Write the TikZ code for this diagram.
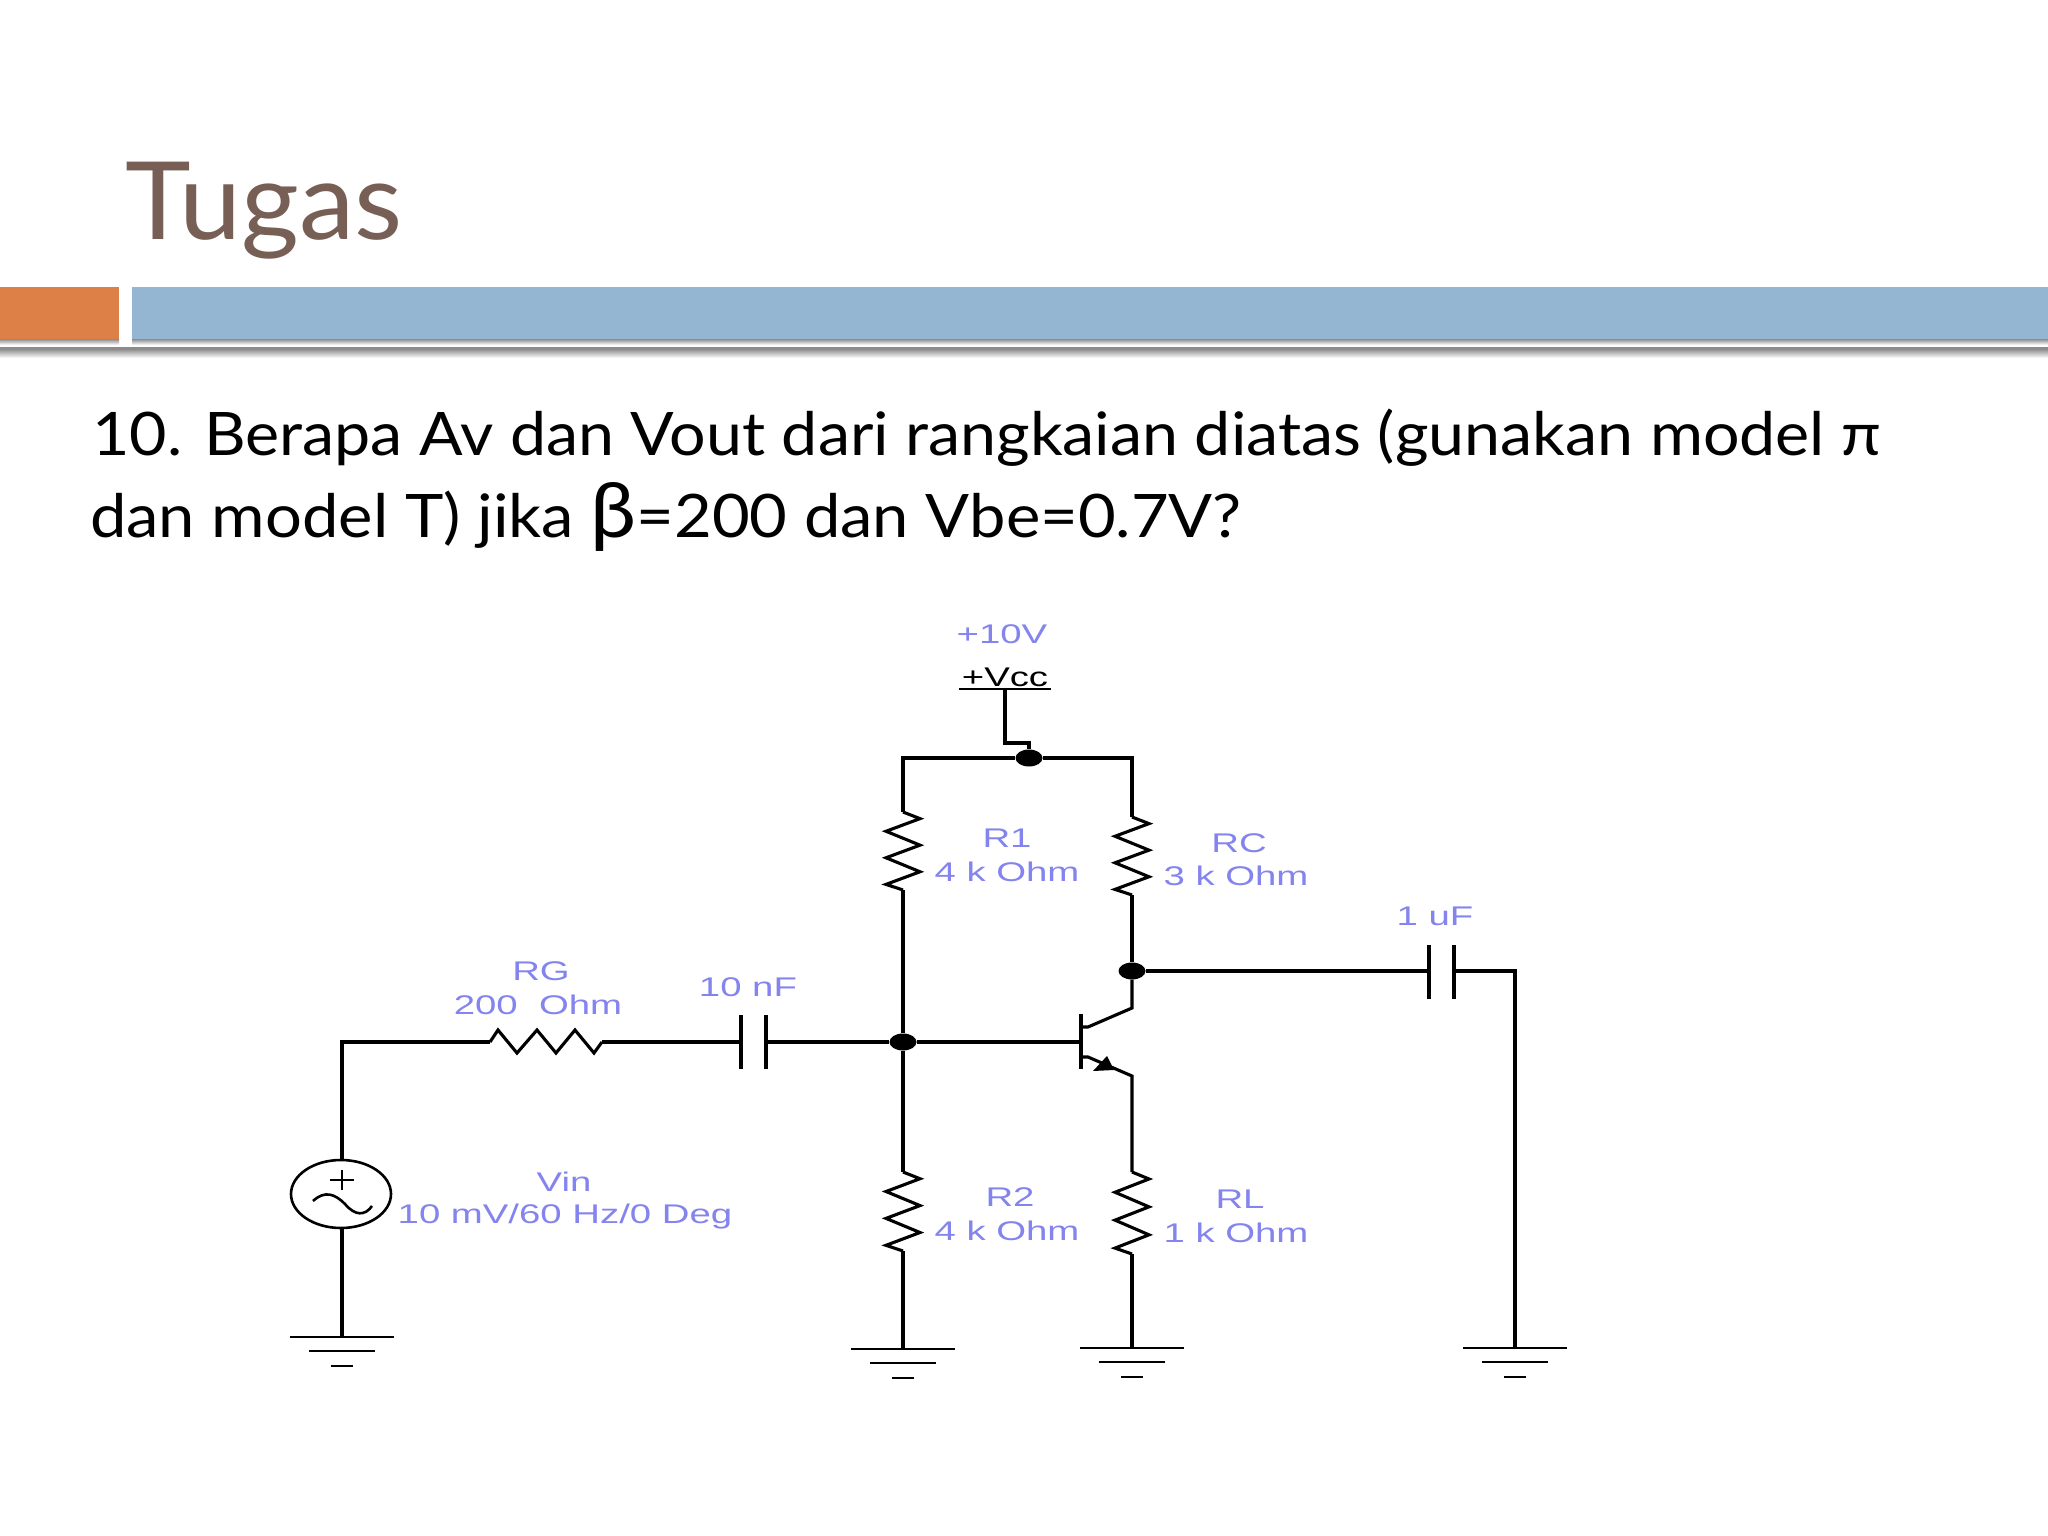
\documentclass[tikz,border=0pt]{standalone}
\usepackage{fontspec}
\usetikzlibrary{shapes.geometric,calc}
\setmainfont{Lato}
\newfontfamily\lblfont{Liberation Sans}
\definecolor{titlec}{HTML}{775F55}
\definecolor{orangec}{HTML}{DD8047}
\definecolor{bluec}{HTML}{94B6D2}
\definecolor{lblc}{HTML}{8484EE}
\newcommand{\lbl}[1]{\scalebox{1.42}[1]{\lblfont\fontsize{27}{27}\selectfont #1}}
\newcommand{\vres}[4]{% name x ytop ybot
  \coordinate (#1-a) at (#2,#3);
  \coordinate (#1-b) at (#2,#4);
  \draw[wire] (#1-a)
   -- ($(#1-a)!.085!(#1-b)+(17,0)$) -- ($(#1-a)!.247!(#1-b)+(-17,0)$)
   -- ($(#1-a)!.425!(#1-b)+(17,0)$) -- ($(#1-a)!.587!(#1-b)+(-17,0)$)
   -- ($(#1-a)!.766!(#1-b)+(17,0)$) -- ($(#1-a)!.928!(#1-b)+(-17,0)$)
   -- (#1-b);}
\newcommand{\gnd}[3]{% name x y
  \coordinate (#1) at (#2,#3);
  \draw[thinwire] ($(#1)+(-52,0)$) -- ($(#1)+(52,0)$);
  \draw[thinwire] ($(#1)+(-33,14)$) -- ($(#1)+(33,14)$);
  \draw[thinwire] ($(#1)+(-11,29)$) -- ($(#1)+(11,29)$);}
\tikzset{
  wire/.style={line width=3.1pt,black,line join=miter},
  thinwire/.style={line width=2.6pt,black},
  junction/.style={ellipse,fill=black,minimum width=27pt,minimum height=17pt,inner sep=0pt},
  plate/.style={line width=3.1pt,black},
  lab/.style={text=lblc,inner sep=0pt,anchor=center},
  body/.style={anchor=base west,inner sep=0pt,text=black}
}
\begin{document}
\begin{tikzpicture}[x=1pt,y=-1pt]
\useasboundingbox (0,0) rectangle (2048,1536);
\fill[white] (0,0) rectangle (2048,1536);
% header bars
\shade[top color=black!45,bottom color=white] (0,339) rectangle (119,345);
\shade[top color=black!45,bottom color=white] (132,339) rectangle (2048,345);
\fill[orangec] (0,287) rectangle (119,339);
\fill[bluec] (132,287) rectangle (2048,339);
\fill[black!45] (0,347) rectangle (2048,350);
\shade[top color=black!40,bottom color=white] (0,350) rectangle (2048,358);
% title and text
\node[anchor=base west,inner sep=0pt,text=titlec] (title) at (125,239)
  {\scalebox{1.03}[1]{\fontsize{108}{108}\selectfont Tugas}};
\node[body] (line1) at (92,455)
  {\scalebox{1.075}[1]{\fontsize{60}{60}\selectfont 10. Berapa Av dan Vout dari rangkaian diatas (gunakan model π}};
\node[body] (line2) at (90,537)
  {\scalebox{1.084}[1]{\fontsize{60}{60}\selectfont dan model T) jika {\fontsize{76}{76}\selectfont β}=200 dan Vbe=0.7V?}};
% key points
\coordinate (vccL) at (959,689); \coordinate (vccR) at (1051,689);
\coordinate (vccS) at (1005,689); \coordinate (vccK) at (1005,743);
\coordinate (vccK2) at (1029,743);
\node[junction] (jtop) at (1029,758) {};
\node[junction] (jout) at (1132,971) {};
\node[junction] (jbase) at (903,1042) {};
\coordinate (railL) at (903,758); \coordinate (railR) at (1132,758);
% resistors
\vres{R1}{903}{812}{890}
\vres{RC}{1132}{817}{895}
\vres{R2}{903}{1172}{1251}
\vres{RL}{1132}{1172}{1254}
% grounds
\gnd{g1}{342}{1337}
\gnd{g2}{903}{1349}
\gnd{g3}{1132}{1348}
\gnd{g4}{1515}{1348}
% supply
\draw[thinwire] (vccL) -- (vccR);
\draw[wire] (vccS) -- (vccK) -- (vccK2) -- (jtop);
\draw[wire] (R1-a) -- (railL) -- (jtop) -- (railR) -- (RC-a);
\draw[wire] (R1-b) -- (jbase) -- (R2-a);
\draw[wire] (R2-b) -- (g2);
\draw[wire] (RC-b) -- (jout);
% transistor
\coordinate (bbT) at (1081,1014); \coordinate (bbB) at (1081,1069);
\coordinate (bb) at (1081,1042);
\coordinate (cA) at (1081,1027); \coordinate (cB) at (1088,1027); \coordinate (cC) at (1132,1008);
\coordinate (eA) at (1081,1057); \coordinate (eB) at (1088,1057); \coordinate (eC) at (1132,1076);
\draw[wire] (bbT) -- (bbB);
\draw[wire] (jbase) -- (bb);
\draw[wire] (cA) -- (cB) -- (cC) -- (jout);
\draw[wire] (eA) -- (eB) -- (eC) -- (RL-a);
\fill[black] (1093,1071) -- (1107,1056) -- (1114,1070) -- cycle;
\draw[wire] (RL-b) -- (g3);
% output
\coordinate (c2L) at (1429,971); \coordinate (c2R) at (1454,971);
\coordinate (c2K) at (1515,971);
\draw[plate] (1429,945) -- (1429,999);
\draw[plate] (1454,945) -- (1454,999);
\draw[wire] (jout) -- (c2L);
\draw[wire] (c2R) -- (c2K) -- (g4);
% input
\coordinate (c1L) at (741,1042); \coordinate (c1R) at (766,1042);
\draw[plate] (741,1015) -- (741,1069);
\draw[plate] (766,1015) -- (766,1069);
\draw[wire] (jbase) -- (c1R);
\coordinate (rgL) at (490,1042); \coordinate (rgR) at (602,1042);
\draw[wire] (rgL) -- (498,1030) -- (517,1053) -- (537,1030) -- (556,1053) -- (575,1030) -- (594,1053) -- (rgR);
\draw[wire] (rgR) -- (c1L);
\coordinate (srcK) at (342,1042);
\node[ellipse,draw=black,line width=2.6pt,minimum width=100pt,minimum height=68pt,inner sep=0pt] (src) at (341,1194) {};
\draw[wire] (rgL) -- (srcK) -- (342,1160);
\draw[wire] (342,1228) -- (g1);
\draw[thinwire] (330,1180) -- (354,1180);
\draw[thinwire] (342,1170) -- (342,1190);
\draw[thinwire] (313,1201) .. controls (325,1190) and (335,1194) .. (345,1204) .. controls (355,1216) and (365,1216) .. (372,1206);
% labels
\node[lab] (tv) at (1002,634) {\lbl{+10V}};
\node[inner sep=0pt] (tvcc) at (1005,677) {\lbl{+Vcc}};
\node[lab] (tr1) at (1007,838) {\lbl{R1}};
\node[lab] (tr1v) at (1007,872) {\lbl{4 k Ohm}};
\node[lab] (trc) at (1239,843) {\lbl{RC}};
\node[lab] (trcv) at (1236,876) {\lbl{3 k Ohm}};
\node[lab] (tc2) at (1435,916) {\lbl{1 uF}};
\node[lab] (trg) at (541,971) {\lbl{RG}};
\node[lab] (trgv) at (538,1005) {\lbl{200\ \ Ohm}};
\node[lab] (tc1) at (748,987) {\lbl{10 nF}};
\node[lab] (tvin) at (564,1182) {\lbl{Vin}};
\node[lab] (tvinv) at (565,1217) {\lbl{10 mV/60 Hz/0 Deg}};
\node[lab] (tr2) at (1010,1197) {\lbl{R2}};
\node[lab] (tr2v) at (1007,1231) {\lbl{4 k Ohm}};
\node[lab] (trl) at (1240,1199) {\lbl{RL}};
\node[lab] (trlv) at (1236,1233) {\lbl{1 k Ohm}};
\end{tikzpicture}
\end{document}
